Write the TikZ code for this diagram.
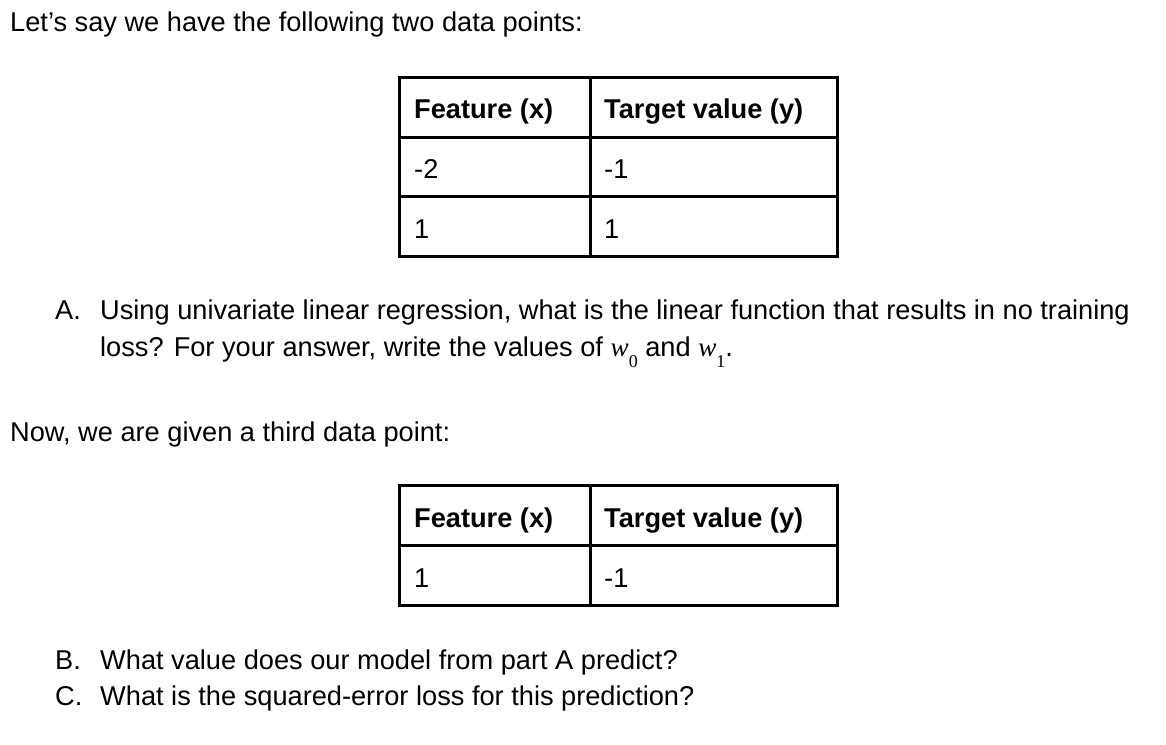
\documentclass[tikz,border=0pt]{standalone}
\usepackage{fontspec}
\setmainfont{Liberation Sans}
\newfontfamily\mathserif{Liberation Serif}
\begin{document}
\begin{tikzpicture}[x=1pt,y=-1pt,
  txt/.style={anchor=base west,inner sep=0pt,font=\fontsize{27.2}{31}\selectfont},
  hd/.style={txt,font=\fontsize{27.2}{31}\selectfont\bfseries},
  grid/.style={line width=3pt,black}]
\useasboundingbox (0,0) rectangle (1166,744);
\node[txt] (l1) at (10,31) {Let’s say we have the following two data points:};
% table 1
\draw[grid] (399,77) rectangle (837,256);
\draw[grid] (590,77) -- (590,256);
\draw[grid] (399,137) -- (837,137);
\draw[grid] (399,196) -- (837,196);
\node[hd] (h1) at (414,118) {Feature (x)};
\node[hd] (h2) at (604,118) {Target value (y)};
\node[txt] (a1) at (414,178) {-2};
\node[txt] (a2) at (604,178) {-1};
\node[txt] (b1) at (414,238) {1};
\node[txt] (b2) at (604,238) {1};
% question A
\node[txt] (qa) at (55,319) {A.};
\node[txt] (qa1) at (100,319) {Using univariate linear regression, what is the linear function that results in no training};
\node[txt] (qa2) at (100,356) {loss? For your answer, write the values of {\mathserif\itshape w}\raisebox{-0.42em}{\mathserif\fontsize{18}{20}\selectfont 0} and {\mathserif\itshape w}\raisebox{-0.42em}{\mathserif\fontsize{18}{20}\selectfont 1}.};
\node[txt] (now) at (10,441) {Now, we are given a third data point:};
% table 2
\draw[grid] (399,485) rectangle (837,605);
\draw[grid] (590,485) -- (590,605);
\draw[grid] (399,545) -- (837,545);
\node[hd] (h3) at (414,527) {Feature (x)};
\node[hd] (h4) at (604,527) {Target value (y)};
\node[txt] (c1) at (414,587) {1};
\node[txt] (c2) at (604,587) {-1};
\node[txt] (qb) at (55,669) {B.};
\node[txt] (qb1) at (100,669) {What value does our model from part A predict?};
\node[txt] (qc) at (55,705) {C.};
\node[txt] (qc1) at (100,705) {What is the squared-error loss for this prediction?};
\end{tikzpicture}
\end{document}
